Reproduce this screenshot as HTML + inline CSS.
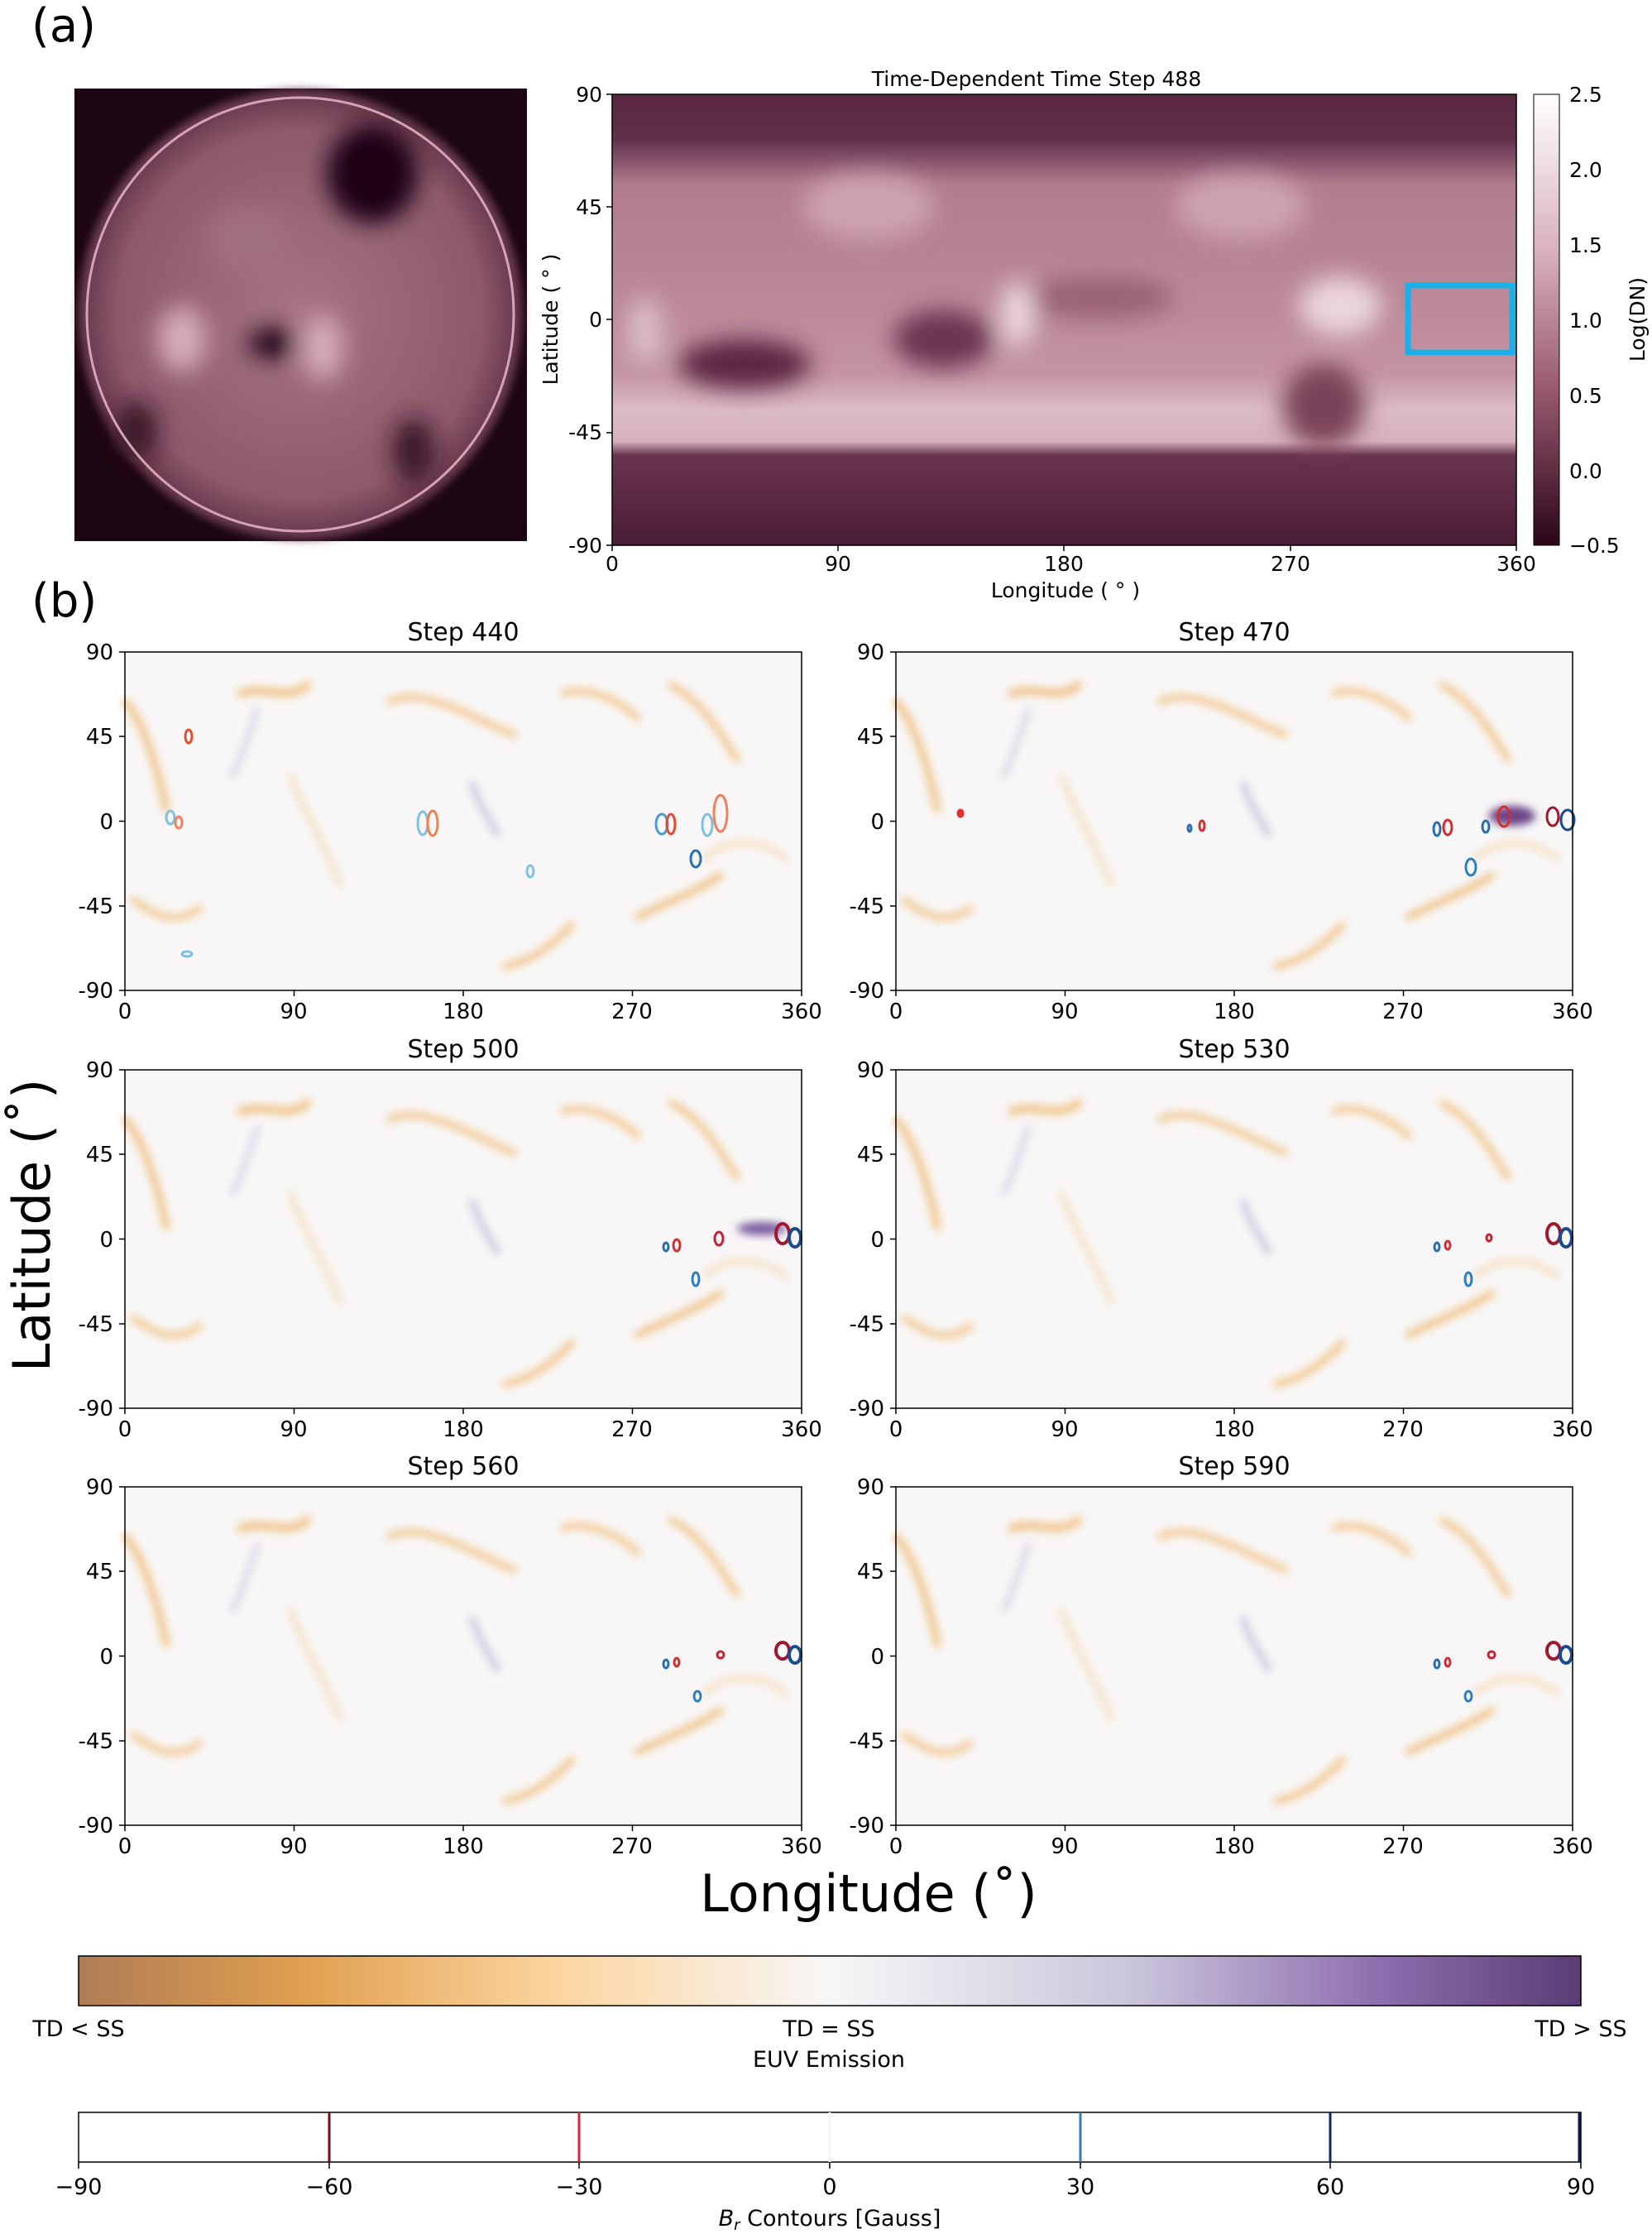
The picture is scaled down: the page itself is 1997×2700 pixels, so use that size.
<!DOCTYPE html>
<html><head><meta charset="utf-8"><style>
html,body{margin:0;padding:0;background:#fff}
svg{display:block}
text{font-family:"DejaVu Sans","Liberation Sans",sans-serif;fill:#000}
</style></head><body>
<svg width="1997" height="2700" viewBox="0 0 1997 2700" xmlns="http://www.w3.org/2000/svg">
<defs>
<filter id="bl" x="-50%" y="-50%" width="200%" height="200%"><feGaussianBlur stdDeviation="14"/></filter>
<filter id="bl2" x="-50%" y="-50%" width="200%" height="200%"><feGaussianBlur stdDeviation="5"/></filter>
<linearGradient id="mapg" x1="0" y1="0" x2="0" y2="1">
<stop offset="0" stop-color="#5a2641"/><stop offset="0.1" stop-color="#61304a"/>
<stop offset="0.2" stop-color="#b07c8e"/><stop offset="0.5" stop-color="#bd8b9c"/>
<stop offset="0.62" stop-color="#c494a4"/><stop offset="0.7" stop-color="#dcbcc6"/>
<stop offset="0.77" stop-color="#d6b0bc"/><stop offset="0.8" stop-color="#6a3450"/><stop offset="1" stop-color="#4a1c35"/>
</linearGradient>
<linearGradient id="cbg" x1="0" y1="0" x2="0" y2="1">
<stop offset="0" stop-color="#ffffff"/><stop offset="0.35" stop-color="#d8b0bc"/>
<stop offset="0.65" stop-color="#9a5a72"/><stop offset="1" stop-color="#2a0616"/>
</linearGradient>
<radialGradient id="sung" cx="0.5" cy="0.5" r="0.5">
<stop offset="0" stop-color="#a77484"/><stop offset="0.85" stop-color="#8c5a6c"/><stop offset="1" stop-color="#6e3c50"/>
</radialGradient>
<linearGradient id="puor" x1="0" y1="0" x2="1" y2="0">
<stop offset="0" stop-color="#b07c55"/><stop offset="0.15" stop-color="#e0a050"/>
<stop offset="0.32" stop-color="#fdd5a0"/><stop offset="0.5" stop-color="#f7f7f7"/>
<stop offset="0.7" stop-color="#cac6dc"/><stop offset="0.87" stop-color="#8d6cae"/>
<stop offset="1" stop-color="#5c3c74"/>
</linearGradient>
<g id="diff">
<rect x="0" y="0" width="818" height="409" fill="#f8f6f6"/>
<g filter="url(#bl2)" fill="none" stroke-linecap="round">
<path d="M0 60 C20 80 40 140 50 190" stroke="#f0c080" stroke-width="8"/>
<path d="M140 50 C170 40 200 60 220 40" stroke="#f2c48a" stroke-width="10"/>
<path d="M320 60 C360 40 420 80 470 100" stroke="#f3c890" stroke-width="8"/>
<path d="M530 50 C560 40 600 60 620 80" stroke="#f4c890" stroke-width="8"/>
<path d="M660 40 C700 60 720 100 740 130" stroke="#f0c080" stroke-width="7"/>
<path d="M10 300 C40 320 60 330 90 310" stroke="#f2c890" stroke-width="8"/>
<path d="M620 320 C660 300 690 290 720 270" stroke="#f0c080" stroke-width="8"/>
<path d="M460 380 C500 370 520 350 540 330" stroke="#f2c488" stroke-width="8"/>
<path d="M420 160 C430 190 440 200 450 220" stroke="#cfc8e0" stroke-width="8"/>
<path d="M160 70 C150 100 140 130 130 150" stroke="#d6d0e6" stroke-width="6"/>
<path d="M200 150 C220 200 240 230 260 280" stroke="#f6dcb8" stroke-width="6"/>
<path d="M700 250 C720 230 760 220 800 250" stroke="#f6dcb8" stroke-width="6"/>
</g>
</g>
<g id="ticks" stroke="#000" stroke-width="1.5">
<line x1="-7" y1="0" x2="0" y2="0"/><line x1="-7" y1="102" x2="0" y2="102"/><line x1="-7" y1="204.5" x2="0" y2="204.5"/><line x1="-7" y1="307" x2="0" y2="307"/><line x1="-7" y1="409" x2="0" y2="409"/>
<line x1="0" y1="409" x2="0" y2="416"/><line x1="204.5" y1="409" x2="204.5" y2="416"/><line x1="409" y1="409" x2="409" y2="416"/><line x1="613.5" y1="409" x2="613.5" y2="416"/><line x1="818" y1="409" x2="818" y2="416"/>
</g>
</defs>

<!-- (a) -->
<text x="38" y="50" font-size="56">(a)</text>
<rect x="90" y="107" width="547" height="547" fill="#1c0613"/>
<ellipse cx="363" cy="380" rx="268" ry="272" fill="#6a3a50" filter="url(#bl2)"/>
<ellipse cx="363" cy="380" rx="258" ry="262" fill="url(#sung)"/>
<g filter="url(#bl)">
<ellipse cx="450" cy="210" rx="55" ry="60" fill="#1c0613"/>
<ellipse cx="330" cy="415" rx="30" ry="18" fill="#1c0613"/>
<ellipse cx="300" cy="290" rx="50" ry="40" fill="#a07080"/>
<ellipse cx="220" cy="410" rx="30" ry="40" fill="#d6aab8"/>
<ellipse cx="390" cy="420" rx="25" ry="40" fill="#d6aab8"/>
<ellipse cx="165" cy="520" rx="25" ry="35" fill="#3a1426"/>
<ellipse cx="500" cy="545" rx="25" ry="40" fill="#3a1426"/>
</g>
<ellipse cx="363" cy="380" rx="258" ry="262" fill="none" stroke="#d4a4b4" stroke-width="3"/>

<rect x="740" y="114" width="1093" height="545" fill="url(#mapg)"/>
<g filter="url(#bl)">
<ellipse cx="900" cy="440" rx="80" ry="30" fill="#5a2640"/>
<ellipse cx="1140" cy="410" rx="60" ry="35" fill="#6a3450"/>
<ellipse cx="1330" cy="360" rx="90" ry="25" fill="#9a6074"/>
<ellipse cx="1620" cy="370" rx="50" ry="35" fill="#ead6dc"/>
<ellipse cx="1230" cy="380" rx="20" ry="40" fill="#ecdae0"/>
<ellipse cx="780" cy="400" rx="20" ry="40" fill="#dcc0ca"/>
<ellipse cx="1600" cy="490" rx="50" ry="50" fill="#7a4258"/>
<ellipse cx="1050" cy="250" rx="80" ry="40" fill="#cda2b0"/>
<ellipse cx="1500" cy="250" rx="80" ry="40" fill="#cda2b0"/>
</g>
<rect x="1702" y="345" width="126" height="81" fill="none" stroke="#1ab0e8" stroke-width="7"/>
<rect x="740" y="114" width="1093" height="545" fill="none" stroke="#000" stroke-width="1.5"/>
<g stroke="#000" stroke-width="1.5">
<line x1="733" y1="114" x2="740" y2="114"/><line x1="733" y1="250" x2="740" y2="250"/><line x1="733" y1="386" x2="740" y2="386"/><line x1="733" y1="523" x2="740" y2="523"/><line x1="733" y1="659" x2="740" y2="659"/>
<line x1="740" y1="659" x2="740" y2="666"/><line x1="1013" y1="659" x2="1013" y2="666"/><line x1="1286" y1="659" x2="1286" y2="666"/><line x1="1560" y1="659" x2="1560" y2="666"/><line x1="1833" y1="659" x2="1833" y2="666"/>
</g>
<text x="1253" y="104" font-size="25" text-anchor="middle">Time-Dependent Time Step 488</text>
<g font-size="25" text-anchor="end">
<text x="728" y="123">90</text><text x="728" y="259">45</text><text x="728" y="395">0</text><text x="728" y="531">-45</text><text x="728" y="668">-90</text>
</g>
<g font-size="25" text-anchor="middle">
<text x="740" y="690">0</text><text x="1013" y="690">90</text><text x="1286" y="690">180</text><text x="1560" y="690">270</text><text x="1833" y="690">360</text>
</g>
<text x="1288" y="722" font-size="25" text-anchor="middle">Longitude ( ° )</text>
<text transform="translate(674,386) rotate(-90)" font-size="25" text-anchor="middle">Latitude ( ° )</text>
<rect x="1854" y="114" width="31" height="545" fill="url(#cbg)" stroke="#000" stroke-width="1"/>
<g font-size="25">
<text x="1897" y="123">2.5</text><text x="1897" y="214">2.0</text><text x="1897" y="305">1.5</text><text x="1897" y="396">1.0</text><text x="1897" y="487">0.5</text><text x="1897" y="578">0.0</text><text x="1897" y="668">−0.5</text>
</g>
<text transform="translate(1988,386) rotate(-90)" font-size="25" text-anchor="middle">Log(DN)</text>

<!-- (b) -->
<text x="38" y="745" font-size="56">(b)</text>

<g transform="translate(151,788)"><use href="#diff"/>
<g fill="none" stroke-width="3">
<ellipse cx="77" cy="102" rx="4" ry="8" stroke="#e05030"/><ellipse cx="55" cy="200" rx="5" ry="8" stroke="#80c0e0"/><ellipse cx="65" cy="206" rx="4" ry="7" stroke="#f08060"/>
<ellipse cx="360" cy="207" rx="6" ry="14" stroke="#80c0e0"/><ellipse cx="372" cy="207" rx="6" ry="15" stroke="#f08050"/>
<ellipse cx="649" cy="208" rx="7" ry="12" stroke="#4a9ad0"/><ellipse cx="660" cy="208" rx="5" ry="12" stroke="#e04a30"/>
<ellipse cx="704" cy="209" rx="6" ry="13" stroke="#80c0e0"/><ellipse cx="720" cy="195" rx="8" ry="22" stroke="#f08060"/>
<ellipse cx="690" cy="250" rx="6" ry="10" stroke="#2a70b0"/><ellipse cx="490" cy="265" rx="4" ry="7" stroke="#80c0e0"/><ellipse cx="75" cy="365" rx="6" ry="3" stroke="#80c0e0"/>
</g><use href="#ticks"/></g>
<g transform="translate(1083,788)"><use href="#diff"/>
<ellipse cx="745" cy="198" rx="28" ry="12" fill="#6a4488" filter="url(#bl2)"/>
<g fill="none" stroke-width="3">
<ellipse cx="78" cy="195" rx="3" ry="4" stroke="#e03030" fill="#e03030"/>
<ellipse cx="370" cy="210" rx="3" ry="6" stroke="#d03030"/><ellipse cx="355" cy="213" rx="2" ry="4" stroke="#2a70b0"/>
<ellipse cx="654" cy="214" rx="4" ry="8" stroke="#2a70b0"/><ellipse cx="667" cy="212" rx="5" ry="9" stroke="#d03030"/>
<ellipse cx="713" cy="211" rx="4" ry="7" stroke="#2a70b0"/><ellipse cx="735" cy="199" rx="7" ry="12" stroke="#d03030"/>
<ellipse cx="794" cy="199" rx="7" ry="11" stroke="#a01830"/><ellipse cx="812" cy="203" rx="8" ry="12" stroke="#1a4a90"/>
<ellipse cx="695" cy="260" rx="6" ry="10" stroke="#2a80c0"/>
</g><use href="#ticks"/></g>
<g transform="translate(151,1293)"><use href="#diff"/>
<ellipse cx="770" cy="192" rx="30" ry="8" fill="#7a5ca0" filter="url(#bl2)"/>
<g fill="none" stroke-width="3">
<ellipse cx="654" cy="214" rx="3" ry="5" stroke="#2a70b0"/><ellipse cx="667" cy="212" rx="4" ry="7" stroke="#d03030"/>
<ellipse cx="718" cy="204" rx="5" ry="8" stroke="#c02838"/><ellipse cx="795" cy="198" rx="8" ry="12" stroke="#a01830" stroke-width="4"/><ellipse cx="810" cy="203" rx="7" ry="11" stroke="#1a4a90" stroke-width="4"/>
<ellipse cx="690" cy="253" rx="4" ry="8" stroke="#2a80c0"/>
</g><use href="#ticks"/></g>
<g transform="translate(1083,1293)"><use href="#diff"/>
<g fill="none" stroke-width="3">
<ellipse cx="654" cy="214" rx="3" ry="5" stroke="#2a70b0"/><ellipse cx="667" cy="212" rx="3" ry="5" stroke="#d03030"/>
<ellipse cx="717" cy="203" rx="3" ry="4" stroke="#c02838"/><ellipse cx="795" cy="198" rx="8" ry="12" stroke="#a01830" stroke-width="4"/><ellipse cx="810" cy="203" rx="7" ry="11" stroke="#1a4a90" stroke-width="4"/>
<ellipse cx="692" cy="253" rx="4" ry="8" stroke="#2a80c0"/>
</g><use href="#ticks"/></g>
<g transform="translate(151,1797)"><use href="#diff"/>
<g fill="none" stroke-width="3">
<ellipse cx="654" cy="214" rx="3" ry="5" stroke="#2a70b0"/><ellipse cx="667" cy="212" rx="3" ry="5" stroke="#d03030"/>
<ellipse cx="720" cy="203" rx="4" ry="4" stroke="#c02838"/><ellipse cx="795" cy="198" rx="8" ry="10" stroke="#a01830" stroke-width="4"/><ellipse cx="810" cy="203" rx="7" ry="10" stroke="#1a4a90" stroke-width="4"/>
<ellipse cx="692" cy="253" rx="4" ry="6" stroke="#2a80c0"/>
</g><use href="#ticks"/></g>
<g transform="translate(1083,1797)"><use href="#diff"/>
<g fill="none" stroke-width="3">
<ellipse cx="654" cy="214" rx="3" ry="5" stroke="#2a70b0"/><ellipse cx="667" cy="212" rx="3" ry="5" stroke="#d03030"/>
<ellipse cx="720" cy="203" rx="4" ry="4" stroke="#c02838"/><ellipse cx="795" cy="198" rx="8" ry="10" stroke="#a01830" stroke-width="4"/><ellipse cx="810" cy="203" rx="7" ry="10" stroke="#1a4a90" stroke-width="4"/>
<ellipse cx="692" cy="253" rx="4" ry="6" stroke="#2a80c0"/>
</g><use href="#ticks"/></g>

<g fill="none" stroke="#000" stroke-width="1.5">
<rect x="151" y="788" width="818" height="409"/><rect x="1083" y="788" width="818" height="409"/>
<rect x="151" y="1293" width="818" height="409"/><rect x="1083" y="1293" width="818" height="409"/>
<rect x="151" y="1797" width="818" height="409"/><rect x="1083" y="1797" width="818" height="409"/>
</g>

<g font-size="30" text-anchor="middle">
<text x="560" y="774">Step 440</text><text x="1492" y="774">Step 470</text>
<text x="560" y="1278">Step 500</text><text x="1492" y="1278">Step 530</text>
<text x="560" y="1782">Step 560</text><text x="1492" y="1782">Step 590</text>
</g>

<g font-size="26" text-anchor="end">
<text x="137" y="797">90</text><text x="137" y="899">45</text><text x="137" y="1002">0</text><text x="137" y="1104">-45</text><text x="137" y="1206">-90</text>
<text x="1069" y="797">90</text><text x="1069" y="899">45</text><text x="1069" y="1002">0</text><text x="1069" y="1104">-45</text><text x="1069" y="1206">-90</text>
<text x="137" y="1302">90</text><text x="137" y="1404">45</text><text x="137" y="1507">0</text><text x="137" y="1609">-45</text><text x="137" y="1711">-90</text>
<text x="1069" y="1302">90</text><text x="1069" y="1404">45</text><text x="1069" y="1507">0</text><text x="1069" y="1609">-45</text><text x="1069" y="1711">-90</text>
<text x="137" y="1806">90</text><text x="137" y="1908">45</text><text x="137" y="2011">0</text><text x="137" y="2113">-45</text><text x="137" y="2215">-90</text>
<text x="1069" y="1806">90</text><text x="1069" y="1908">45</text><text x="1069" y="2011">0</text><text x="1069" y="2113">-45</text><text x="1069" y="2215">-90</text>
</g>
<g font-size="26" text-anchor="middle">
<text x="151" y="1231">0</text><text x="355" y="1231">90</text><text x="560" y="1231">180</text><text x="764" y="1231">270</text><text x="969" y="1231">360</text>
<text x="1083" y="1231">0</text><text x="1287" y="1231">90</text><text x="1492" y="1231">180</text><text x="1696" y="1231">270</text><text x="1901" y="1231">360</text>
<text x="151" y="1736">0</text><text x="355" y="1736">90</text><text x="560" y="1736">180</text><text x="764" y="1736">270</text><text x="969" y="1736">360</text>
<text x="1083" y="1736">0</text><text x="1287" y="1736">90</text><text x="1492" y="1736">180</text><text x="1696" y="1736">270</text><text x="1901" y="1736">360</text>
<text x="151" y="2240">0</text><text x="355" y="2240">90</text><text x="560" y="2240">180</text><text x="764" y="2240">270</text><text x="969" y="2240">360</text>
<text x="1083" y="2240">0</text><text x="1287" y="2240">90</text><text x="1492" y="2240">180</text><text x="1696" y="2240">270</text><text x="1901" y="2240">360</text>
</g>

<text transform="translate(60,1481) rotate(-90)" font-size="62" text-anchor="middle">Latitude (˚)</text>
<text x="1050" y="2310" font-size="62" text-anchor="middle">Longitude (˚)</text>

<rect x="95" y="2364" width="1816" height="60" fill="url(#puor)" stroke="#000" stroke-width="1.5"/>
<g font-size="27">
<text x="95" y="2461" text-anchor="middle">TD &lt; SS</text>
<text x="1002" y="2461" text-anchor="middle">TD = SS</text>
<text x="1911" y="2461" text-anchor="middle">TD &gt; SS</text>
<text x="1002" y="2498" text-anchor="middle">EUV Emission</text>
</g>

<rect x="95" y="2553" width="1816" height="60" fill="#fff" stroke="#000" stroke-width="1.5"/>
<g stroke-width="3">
<line x1="398" y1="2553" x2="398" y2="2613" stroke="#7a0a20"/>
<line x1="700" y1="2553" x2="700" y2="2613" stroke="#d02838"/>
<line x1="1003" y1="2553" x2="1003" y2="2613" stroke="#f4f4f4"/>
<line x1="1306" y1="2553" x2="1306" y2="2613" stroke="#2a80c0"/>
<line x1="1608" y1="2553" x2="1608" y2="2613" stroke="#0a2a60"/>
<line x1="1909" y1="2553" x2="1909" y2="2613" stroke="#082050"/>
</g>
<g stroke="#000" stroke-width="1.5">
<line x1="95" y1="2613" x2="95" y2="2621"/><line x1="398" y1="2613" x2="398" y2="2621"/><line x1="700" y1="2613" x2="700" y2="2621"/><line x1="1003" y1="2613" x2="1003" y2="2621"/><line x1="1306" y1="2613" x2="1306" y2="2621"/><line x1="1608" y1="2613" x2="1608" y2="2621"/><line x1="1911" y1="2613" x2="1911" y2="2621"/>
</g>
<g font-size="27" text-anchor="middle">
<text x="95" y="2652">−90</text><text x="398" y="2652">−60</text><text x="700" y="2652">−30</text><text x="1003" y="2652">0</text><text x="1306" y="2652">30</text><text x="1608" y="2652">60</text><text x="1911" y="2652">90</text>
<text x="1003" y="2690"><tspan font-style="italic">B</tspan><tspan font-style="italic" font-size="18" dy="5">r</tspan><tspan dy="-5"> Contours [Gauss]</tspan></text>
</g>
</svg>
</body></html>
